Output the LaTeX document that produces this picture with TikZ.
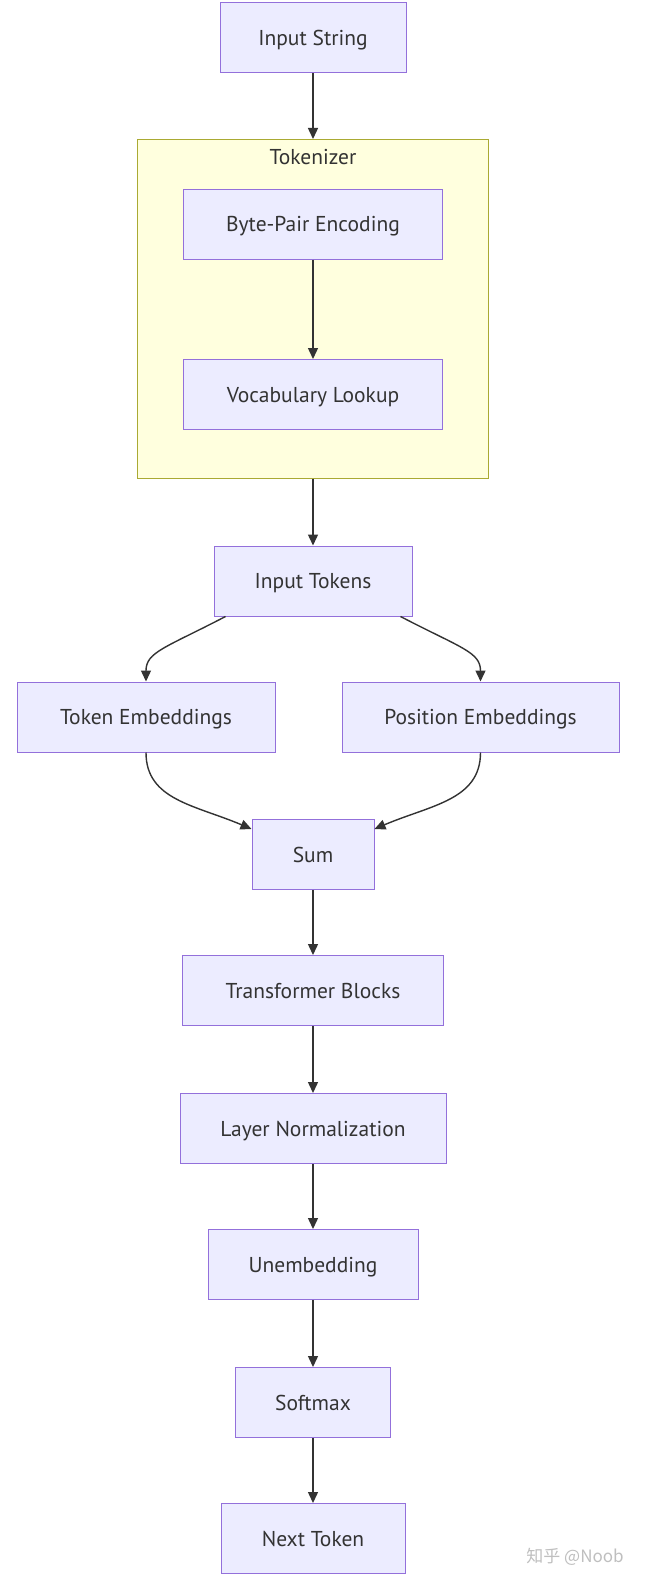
\documentclass[tikz,border=0pt]{standalone}
\usepackage{fontspec}
\setmainfont{PT Sans}
\newfontfamily\cjkfont{Noto Sans CJK SC}
\usetikzlibrary{arrows.meta, positioning, calc}
\definecolor{nodefill}{HTML}{ECECFF}
\definecolor{nodeline}{HTML}{9370DB}
\definecolor{clusterfill}{HTML}{FFFFDE}
\definecolor{clusterline}{HTML}{AAAA33}
\definecolor{edgegray}{HTML}{333333}
\definecolor{textgray}{HTML}{333333}

\tikzset{
  flowtext/.style={text=textgray, font=\fontsize{21.5}{25}\selectfont,
    text height=15pt, text depth=0pt},
  flowbox/.style={flowtext, draw=nodeline, fill=nodefill, line width=1pt,
    minimum height=70pt, inner sep=0pt},
  flowedge/.style={draw=edgegray, line width=1.4pt,
    -{Triangle[length=11pt,width=10pt]}},
}

\begin{document}
\begin{tikzpicture}[x=1pt, y=-1pt]
  \useasboundingbox[fill=white] (0,0) rectangle (650,1586);

  % Tokenizer group
  \node[draw=clusterline, fill=clusterfill, line width=1pt, inner sep=0pt,
    minimum width=351.5pt, minimum height=338.5pt] (tokenizer) at (313,308.75) {};
  \node[flowtext, inner sep=0pt] (tokenizerlabel) at (313,157.5) {Tokenizer};

  % Boxes, top to bottom
  \foreach \name/\y/\w/\txt in {
    instr/38/186/Input String,
    bpe/224.5/259/Byte-Pair Encoding,
    vocab/394.5/259/Vocabulary Lookup,
    intok/581/198/Input Tokens,
    sum/854.5/122/Sum,
    tblk/990.5/261/Transformer Blocks,
    lnorm/1128.5/266/Layer Normalization,
    unemb/1264.5/210/Unembedding,
    softmax/1402.5/155/Softmax,
    next/1538.5/184/Next Token} {
    \node[flowbox, minimum width=\w pt] (\name) at (313,\y) {\txt};
  }
  \node[flowbox, minimum width=258pt] (tokemb) at (146,717) {Token Embeddings};
  \node[flowbox, minimum width=277pt] (posemb) at (480.5,717) {Position Embeddings};

  % Straight edges
  \draw[flowedge] (instr.south) -- (instr.south |- tokenizer.north);
  \draw[flowedge] (bpe.south) -- (vocab.north);
  \draw[flowedge] (intok.north |- tokenizer.south) -- (intok.north);
  \foreach \a/\b in {sum/tblk, tblk/lnorm, lnorm/unemb, unemb/softmax, softmax/next} {
    \draw[flowedge] (\a.south) -- (\b.north);
  }

  % Curved edges
  \draw[flowedge] ($(intok.south west)+(12,0)$)
    .. controls (165,648) and (146,652) .. (tokemb.north);
  \draw[flowedge] ($(intok.south east)+(-12,0)$)
    .. controls (461,648) and (480.5,652) .. (posemb.north);
  \draw[flowedge] (tokemb.south)
    .. controls (146,800) and (195,805) .. ($(sum.north west)+(0,10)$);
  \draw[flowedge] (posemb.south)
    .. controls (480.5,800) and (431,805) .. ($(sum.north east)+(0,10)$);

  % Watermark
  \node[text=black!25, font=\cjkfont\fontsize{17}{20}\selectfont] (watermark)
    at (575,1557) {知乎 @Noob};
\end{tikzpicture}
\end{document}
